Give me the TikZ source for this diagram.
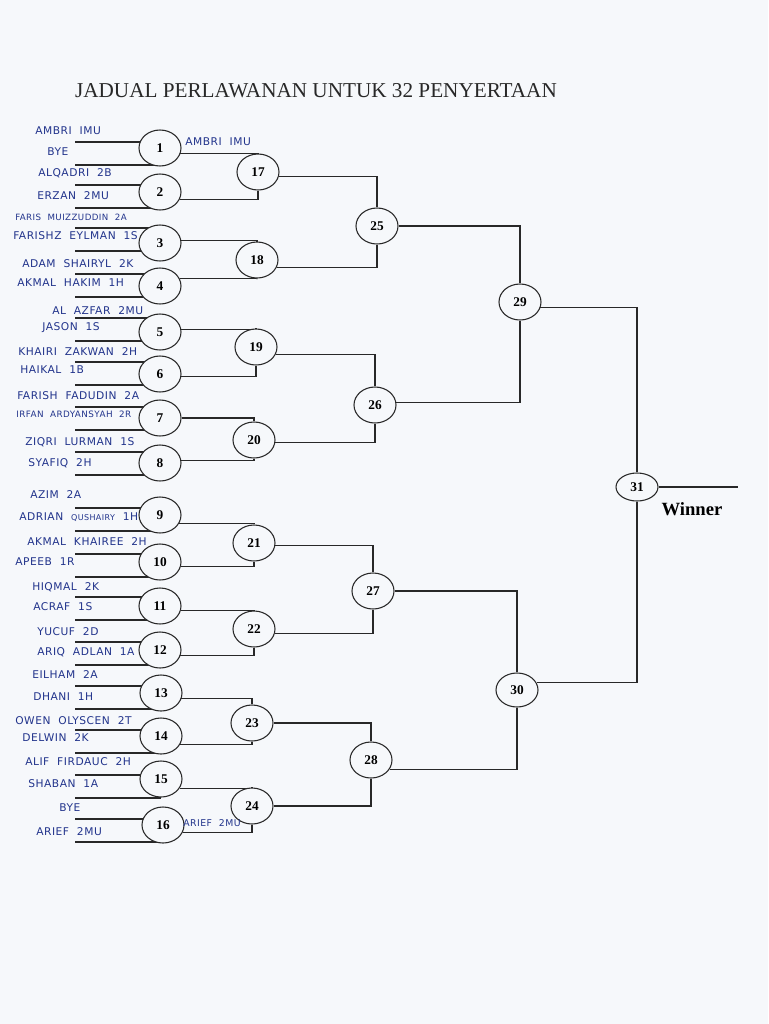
\documentclass[tikz,border=0pt]{standalone}
\usepackage{fontspec}
\setmainfont{Liberation Serif}
\newfontfamily\hand[LetterSpace=5,WordSpace=2]{DejaVu Sans}
\usetikzlibrary{shapes.geometric}
\definecolor{paper}{RGB}{246,248,251}
\definecolor{ink}{RGB}{34,52,140}
\definecolor{linec}{RGB}{40,40,40}
\pgfdeclarelayer{bg}
\pgfdeclarelayer{lines}
\pgfsetlayers{bg,lines,main}
\begin{document}
\begin{tikzpicture}[x=0.75pt,y=-0.75pt,
  match/.style={ellipse,draw=linec,line width=0.8pt,fill=paper,minimum width=31.5pt,minimum height=27pt,inner sep=0pt,font=\bfseries\fontsize{10}{10}\selectfont},
  player/.style={anchor=west,text=ink,font=\hand\fontsize{8}{8}\selectfont,inner sep=0pt},
  pline/.style={draw=linec,line width=1.1pt},
  conn/.style={draw=linec,line width=0.9pt}]
\useasboundingbox (0,0) rectangle (768,1024);
\begin{pgfonlayer}{bg}
\fill[paper] (0,0) rectangle (768,1024);
\end{pgfonlayer}

% title
\node[font=\fontsize{15.9}{16}\selectfont,text=linec] (title) at (316,91) {JADUAL PERLAWANAN UNTUK 32 PENYERTAAN};

% round 1
\foreach \i/\x/\y in {1/160/148,2/160/192,3/160/243,4/160/286,5/160/332,6/160/374,7/160/418,8/160/463,9/160/515,10/160/562,11/160/606,12/160/650,13/161/693,14/161/736,15/161/779,16/163/825}
  \node[match] (m\i) at (\x,\y) {\i};
% round 2
\node[match] (r17) at (258,172) {17};
\node[match] (r18) at (257,260) {18};
\node[match] (r19) at (256,347) {19};
\node[match] (r20) at (254,440) {20};
\node[match] (r21) at (254,543) {21};
\node[match] (r22) at (254,629) {22};
\node[match] (r23) at (252,723) {23};
\node[match] (r24) at (252,806) {24};
% round 3
\node[match] (r25) at (377,226) {25};
\node[match] (r26) at (375,405) {26};
\node[match] (r27) at (373,591) {27};
\node[match] (r28) at (371,760) {28};
% round 4
\node[match] (r29) at (520,302) {29};
\node[match,minimum height=25.5pt] (r30) at (517,690) {30};
% final
\node[match,minimum height=21pt] (r31) at (637,487) {31};
\coordinate (wend) at (738,487);
\node[font=\bfseries\fontsize{14}{14}\selectfont,text=black] (win) at (692,509) {Winner};

\begin{pgfonlayer}{lines}
% player lines
\foreach \i/\u in {1/142,2/185,3/228,4/274,5/318,6/362,7/407,8/452,9/508,10/554,11/597,12/642,13/686,14/730,15/775,16/819} {
  \coordinate (ua\i) at (75,\u);
  \coordinate (ub\i) at (75,\u+23);
  \draw[pline] (ua\i) -- (ua\i -| m\i);
  \draw[pline] (ub\i) -- (ub\i -| m\i);
}
% connectors
\foreach \s/\a/\d/\t in {m1/-16/r17/north, m2/-20/r17/south, m3/6/r18/north, m4/20/r18/south,
  m5/6/r19/north, m6/-6/r19/south, m7/0/r20/north, m8/6/r20/south,
  m9/-23/r21/north, m10/-13/r21/south, m11/-13/r22/north, m12/-16/r22/south,
  m13/-16/r23/north, m14/-23/r23/south, m15/-26/r24/north, m16/-20/r24/south,
  r17/-13/r25/north, r18/-20/r25/south, r19/-20/r26/north, r20/-6/r26/south,
  r21/-6/r27/north, r22/-13/r27/south, r23/0/r28/north, r24/0/r28/south,
  r25/0/r29/north, r26/6/r29/south, r27/0/r30/north, r28/-26/r30/south,
  r29/-16/r31/north, r30/20/r31/south}
  \draw[conn] (\s.\a) -| (\d.\t);
\draw[conn] (r31.east) -- (wend);
\end{pgfonlayer}

% player names
\node[player] (p1a) at (35,131) {AMBRI IMU};
\node[player] (p1b) at (47,152) {BYE};
\node[player] (p2a) at (38,173) {ALQADRI 2B};
\node[player] (p2b) at (37,196) {ERZAN 2MU};
\node[player,font=\hand\fontsize{6.5}{6.5}\selectfont] (p3a) at (15,217) {FARIS MUIZZUDDIN 2A};
\node[player] (p3b) at (13,236) {FARISHZ EYLMAN 1S};
\node[player] (p4a) at (22,264) {ADAM SHAIRYL 2K};
\node[player] (p4b) at (17,283) {AKMAL HAKIM 1H};
\node[player] (p5a) at (52,311) {AL AZFAR 2MU};
\node[player] (p5b) at (42,328) {JASON 1S};
\node[player] (p6a) at (18,352) {KHAIRI ZAKWAN 2H};
\node[player] (p6b) at (20,370) {HAIKAL 1B};
\node[player] (p7a) at (17,396) {FARISH FADUDIN 2A};
\node[player,font=\hand\fontsize{6.6}{6.6}\selectfont] (p7b) at (16,414) {IRFAN ARDYANSYAH 2R};
\node[player] (p8a) at (25,442) {ZIQRI LURMAN 1S};
\node[player] (p8b) at (28,463) {SYAFIQ 2H};
\node[player] (p9a) at (30,495) {AZIM 2A};
\node[player] (p9b) at (19,517) {ADRIAN {\fontsize{6}{6}\selectfont QUSHAIRY} 1H};
\node[player] (p10a) at (27,542) {AKMAL KHAIREE 2H};
\node[player] (p10b) at (15,562) {APEEB 1R};
\node[player] (p11a) at (32,587) {HIQMAL 2K};
\node[player] (p11b) at (33,607) {ACRAF 1S};
\node[player] (p12a) at (37,632) {YUCUF 2D};
\node[player] (p12b) at (37,652) {ARIQ ADLAN 1A};
\node[player] (p13a) at (32,675) {EILHAM 2A};
\node[player] (p13b) at (33,697) {DHANI 1H};
\node[player] (p14a) at (15,721) {OWEN OLYSCEN 2T};
\node[player] (p14b) at (22,738) {DELWIN 2K};
\node[player] (p15a) at (25,762) {ALIF FIRDAUC 2H};
\node[player] (p15b) at (28,784) {SHABAN 1A};
\node[player] (p16a) at (59,808) {BYE};
\node[player] (p16b) at (36,832) {ARIEF 2MU};
% advancing names
\node[player] (w1) at (185,142) {AMBRI IMU};
\node[player,font=\hand\fontsize{7}{7}\selectfont] (w16) at (183,823) {ARIEF 2MU};
\end{tikzpicture}
\end{document}
